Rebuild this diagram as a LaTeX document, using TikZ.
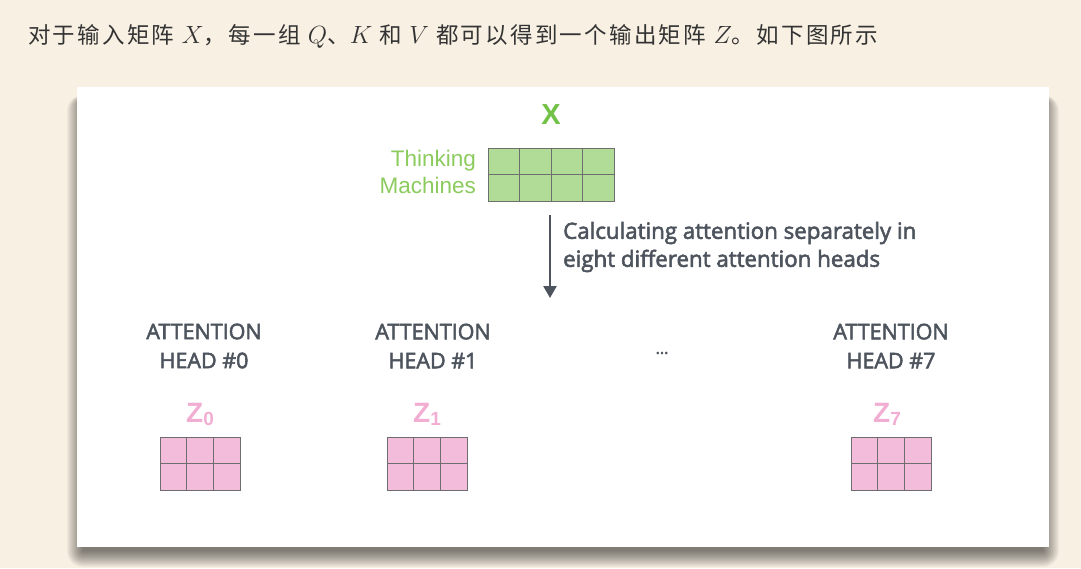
\documentclass[tikz,border=0pt]{standalone}
\usepackage{fontspec}
\usetikzlibrary{arrows.meta,calc}
\newfontfamily\cjk[LetterSpace=10]{Noto Sans CJK SC}
\newfontfamily\osans[FakeBold=2.5]{Open Sans}
\newfontfamily\lsans{Liberation Sans}
\definecolor{bgc}{HTML}{F8F0E3}
\definecolor{txt}{HTML}{333333}
\definecolor{gx}{HTML}{72C247}
\definecolor{gt}{HTML}{8CCB5E}
\definecolor{gcell}{HTML}{B0DC98}
\definecolor{pcell}{HTML}{F4BCDB}
\definecolor{pz}{HTML}{F2AED2}
\definecolor{gridc}{HTML}{6E6E6E}
\definecolor{dg}{HTML}{4D545D}
\newcommand{\mm}[1]{{\fontsize{27}{27}\selectfont$#1$}}
\tikzset{
  headcap/.style={font=\osans\fontsize{21.5}{29}\selectfont, text=dg, align=center, inner sep=0pt},
  zlab/.style={font=\lsans\bfseries\fontsize{28}{28}\selectfont, text=pz, inner sep=0pt},
  matline/.style={draw=gridc, line width=1pt},
  cellbox/.style={inner sep=0pt, anchor=north west},
}
\begin{document}
\begin{tikzpicture}[x=1pt,y=-1pt]
\fill[bgc] (0,0) rectangle (1081,568);
\useasboundingbox (0,0) rectangle (1081,568);
% header text
\node[anchor=west, inner sep=0pt, font=\cjk\fontsize{22.5}{22.5}\selectfont, text=txt] (head) at (28,36)
  {对于输入矩阵 \mm{X}，每一组 \mm{Q}、\mm{K} 和 \mm{V} 都可以得到一个输出矩阵 \mm{Z}。如下图所示};
% card shadow
\foreach \i in {0,...,16}{
  \fill[black, opacity=0.035, rounded corners=\i pt] (83-\i,100-0.3*\i) rectangle (1043+\i,551+\i);
}
% card
\node[fill=white, minimum width=972pt, minimum height=460pt, inner sep=0pt] (card) at (563,317) {};
% X
\node[font=\lsans\bfseries\fontsize{29}{29}\selectfont, text=gx, inner sep=0pt] (X) at (551,115) {X};
% green matrix
\node[cellbox, fill=gcell, minimum width=126pt, minimum height=53pt] (xm) at (488,148) {};
\foreach \k in {1,2,3} \draw[matline] ($(xm.north west)+(31.5*\k,0)$) -- ++(0,53);
\draw[matline] (xm.west) -- (xm.east);
\draw[matline] (xm.north west) rectangle (xm.south east);
\node[anchor=east, align=right, inner sep=0pt, font=\lsans\fontsize{22.5}{27}\selectfont, text=gt] (tm) at (476,172)
  {Thinking\\Machines};
% arrow
\coordinate (a1) at (550,215);
\coordinate (a2) at (550,298);
\draw[dg, line width=2.5pt, -{Triangle[length=12pt,width=13pt]}] (a1) -- (a2);
\node[anchor=west, align=left, inner sep=0pt, font=\osans\fontsize{22.3}{28}\selectfont, text=dg] (calc) at (563,247)
  {Calculating attention separately in\\eight different attention heads};
% heads
\node[headcap] (h0) at (204,346) {ATTENTION\\HEAD \#0};
\node[headcap] (h1) at (433,346) {ATTENTION\\HEAD \#1};
\node[headcap] (h7) at (891,346) {ATTENTION\\HEAD \#7};
\node[font=\osans\fontsize{16}{16}\selectfont, text=dg, inner sep=0pt] (dots) at (662,353) {...};
% Z labels
\node[zlab] (z0) at (200,414) {Z\raisebox{-3pt}{\fontsize{19}{19}\selectfont 0}};
\node[zlab] (z1) at (427,414) {Z\raisebox{-3pt}{\fontsize{19}{19}\selectfont 1}};
\node[zlab] (z7) at (887,414) {Z\raisebox{-3pt}{\fontsize{19}{19}\selectfont 7}};
% pink matrices
\foreach \nm/\x in {m0/160, m1/387, m7/851}{
  \node[cellbox, fill=pcell, minimum width=80pt, minimum height=53pt] (\nm) at (\x,437) {};
  \foreach \k in {1,2} \draw[matline] ($(\nm.north west)+(26.6667*\k,0)$) -- ++(0,53);
  \draw[matline] (\nm.west) -- (\nm.east);
  \draw[matline] (\nm.north west) rectangle (\nm.south east);
}
\end{tikzpicture}
\end{document}
